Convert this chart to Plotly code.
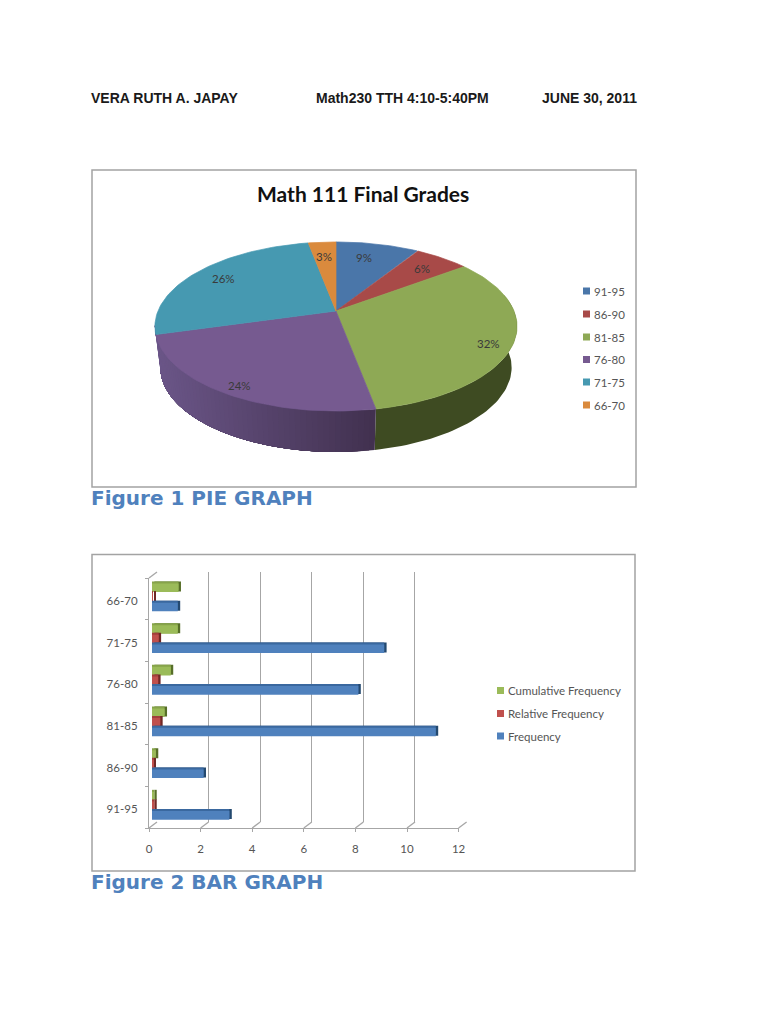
import math
import plotly.graph_objects as go

# --- Data ---
classes = ["91-95", "86-90", "81-85", "76-80", "71-75", "66-70"]
frequency = [3, 2, 11, 8, 9, 1]
relative_frequency = [0.09, 0.06, 0.32, 0.24, 0.26, 0.03]
cumulative_frequency = [0.09, 0.15, 0.49, 0.73, 1.0, 1.03]
bar_ticks = [0, 2, 4, 6, 8, 10, 12]

pie_colors = ["#4a76a9", "#a84a48", "#8ea955", "#765a90", "#4699b1", "#da8a3d"]
blue, blue_top, blue_cap = "#4f81bd", "#3a689f", "#24496f"
red, red_top, red_cap = "#c0504d", "#a23f3c", "#6f2826"
green, green_top, green_cap = "#9bbb59", "#86a34a", "#566e28"
grey_text = "#555555"
grid_grey = "#a6a6a6"
label_font = "Lato, 'Noto Sans', sans-serif"

# the page keeps the browser's 8px body margin, so the figure is 16px smaller
# and the axes are still in page pixels
PAGE_W, PAGE_H = 768, 1024
BODY = 8
W, H = PAGE_W - 2 * BODY, PAGE_H - 2 * BODY

# --- Pie geometry (tilted disc, page pixels) ---
CX, CY = 336, 311
RX, RY, PERSP = 178, 81.7, 0.183
DEPTH, WALL_SCALE = 41, 0.97


def rim(theta):
    u, v = math.sin(theta), math.cos(theta)
    den = 1 + PERSP * v
    return CX + RX * u / den, CY - RY * v / den


def arc(a, b, n=60):
    return [rim(a + (b - a) * i / n) for i in range(n + 1)]


def wall_bottom(pts):
    return [(CX + (x - CX) * WALL_SCALE, y + DEPTH) for x, y in pts]


def lerp_color(c1, c2, t):
    a = [int(c1[i:i + 2], 16) for i in (1, 3, 5)]
    b = [int(c2[i:i + 2], 16) for i in (1, 3, 5)]
    return "rgb(%d,%d,%d)" % tuple(round(p + (q - p) * t) for p, q in zip(a, b))


def poly_trace(pts, color, name=None, edge=0.7):
    return go.Scatter(
        x=[p[0] for p in pts] + [pts[0][0]],
        y=[p[1] for p in pts] + [pts[0][1]],
        mode="lines",
        fill="toself",
        fillcolor=color,
        line=dict(color=color, width=edge),
        showlegend=False,
        hoverinfo="text" if name else "skip",
        text=name,
        xaxis="x",
        yaxis="y",
    )


fig = go.Figure()

total = sum(frequency)
edges = [0]
for f in frequency:
    edges.append(edges[-1] + f / total * 2 * math.pi)

# side wall: each band runs to the far end of the wall so no seams show
green_from, green_to = math.radians(78), edges[3]
top = arc(green_from, green_to, 60)
fig.add_trace(poly_trace(top + wall_bottom(top)[::-1], "#3e4b22", edge=0))

purple_from, purple_to = edges[3], math.radians(262)
bands = 60
x_near, x_far = rim(purple_from)[0], rim(purple_to)[0]
for i in range(bands):
    a = purple_from + (purple_to - purple_from) * i / bands
    top = arc(a, purple_to, 30)
    shade = (top[0][0] - x_near) / (x_far - x_near)
    fig.add_trace(poly_trace(top + wall_bottom(top)[::-1], lerp_color("#423150", "#6b5688", shade), edge=0))

# top surface
for i, cls in enumerate(classes):
    fig.add_trace(poly_trace([(CX, CY)] + arc(edges[i], edges[i + 1]), pie_colors[i], cls))

# --- Bar chart planes ---
X_SCALE = 25.8
PLANE_TOP, PLANE_BOTTOM = 578, 828
BACK_DX, BACK_DY = 8, -6
BAR_DX, BAR_DY = 3, -3
FRONT_LEFT = 149
PLANE_W = 12 * X_SCALE


def xdom(left):
    return [(left - BODY) / W, (left + PLANE_W - BODY) / W]


def ydom(top, bottom):
    return [1 - (bottom - BODY) / H, 1 - (top - BODY) / H]


# floor and corner connectors between front ticks and back wall
conn_x, conn_y = [], []
for t in bar_ticks:
    x0 = FRONT_LEFT + t * X_SCALE
    conn_x += [x0, x0 + BACK_DX, None]
    conn_y += [PLANE_BOTTOM, PLANE_BOTTOM + BACK_DY, None]
conn_x += [FRONT_LEFT, FRONT_LEFT + BACK_DX, None]
conn_y += [PLANE_TOP, PLANE_TOP + BACK_DY, None]
fig.add_trace(go.Scatter(x=conn_x, y=conn_y, mode="lines", line=dict(color=grid_grey, width=1.3),
                         showlegend=False, hoverinfo="skip", xaxis="x", yaxis="y"))

# invisible trace so the back wall subplot exists
fig.add_trace(go.Scatter(x=[0, 12], y=[0, 1], mode="markers", marker=dict(opacity=0), showlegend=False,
                         hoverinfo="skip", xaxis="x2", yaxis="y2"))
# front plane with the tick labels
fig.add_trace(go.Scatter(x=[0, 12], y=[classes[0], classes[-1]], mode="markers", marker=dict(opacity=0),
                         showlegend=False, hoverinfo="skip", xaxis="x3", yaxis="y3"))

# bars: cap and top face are shifted copies under the main bar, top series first
positions = list(range(len(classes)))
BAR_H = 8.6 / 41.67
FACE_DY = 2.0 / 41.67
FACE_DX = 2.4 / X_SCALE
series = [
    ("Cumulative Frequency", cumulative_frequency, green, green_top, green_cap, 0.09),
    ("Relative Frequency", relative_frequency, red, red_top, red_cap, -0.14),
    ("Frequency", frequency, blue, blue_top, blue_cap, -0.372),
]
for name, vals, col, face, cap, off in series:
    fig.add_trace(go.Bar(y=positions, x=vals, base=FACE_DX, orientation="h", width=BAR_H + 0.7 * FACE_DY,
                         offset=off + 0.3 * FACE_DY,
                         marker=dict(color=cap, line=dict(width=0)), showlegend=False, hoverinfo="skip",
                         xaxis="x4", yaxis="y4"))
    fig.add_trace(go.Bar(y=positions, x=vals, base=0, orientation="h", width=BAR_H, offset=off + FACE_DY,
                         marker=dict(color=face, line=dict(width=0)), showlegend=False, hoverinfo="skip",
                         xaxis="x4", yaxis="y4"))
    fig.add_trace(go.Bar(y=positions, x=vals, base=0, orientation="h", width=BAR_H, offset=off,
                         marker=dict(color=col, line=dict(width=0)), name=name, showlegend=False,
                         xaxis="x4", yaxis="y4"))

# --- Keys ---
pie_key_y = [291, 314, 337, 359.5, 382, 405]
bar_key_y = [690.5, 713.5, 736]
fig.add_trace(go.Scatter(x=[586.5] * len(classes), y=pie_key_y, mode="markers", showlegend=False, hoverinfo="skip",
                         marker=dict(symbol="square", size=7, color=pie_colors), xaxis="x", yaxis="y"))
fig.add_trace(go.Scatter(x=[500.5] * 3, y=bar_key_y, mode="markers", showlegend=False, hoverinfo="skip",
                         marker=dict(symbol="square", size=7, color=[s[2] for s in series]), xaxis="x", yaxis="y"))

annotations = []


def put(text, x, y, size, color=grey_text, family=label_font, anchor="left", bold=False):
    if bold:
        text = "<b>" + text + "</b>"
    annotations.append(dict(text=text, x=x, y=y, xref="x", yref="y", xanchor=anchor, yanchor="middle",
                            showarrow=False, borderpad=0, font=dict(size=size, color=color, family=family)))


head_font = "'Liberation Sans', Arial, sans-serif"
put("VERA RUTH A. JAPAY", 90, 98, 14, "#1a1a1a", head_font, bold=True)
put("Math230 TTH 4:10-5:40PM", 315, 98, 14, "#1a1a1a", head_font, bold=True)
put("JUNE 30, 2011", 541, 98, 14, "#1a1a1a", head_font, bold=True)

put("Math 111 Final Grades", 362.5, 193.5, 21, "#111111", anchor="center", bold=True)

pie_label_xy = [(364, 257), (422, 268), (488, 343), (239, 385), (223, 278), (324, 256)]
for f, (lx, ly) in zip(frequency, pie_label_xy):
    put("%d%%" % round(f / total * 100), lx, ly, 11.5, "#3a3a3a", anchor="center")

for cls, ky in zip(classes, pie_key_y):
    put(cls, 592.5, ky, 11.5)
for s, ky in zip(series, bar_key_y):
    put(s[0], 507, ky, 11.5)

fig_font = "'DejaVu Sans', sans-serif"
put("Figure 1 PIE GRAPH", 90, 498, 20, "#4f81bd", fig_font, bold=True)
put("Figure 2 BAR GRAPH", 90, 882, 20, "#4f81bd", fig_font, bold=True)

frame = dict(color="#a3a3a3", width=1.5)
shapes = [
    dict(type="rect", xref="x", yref="y", x0=92, x1=636, y0=170, y1=487, line=frame, layer="below"),
    dict(type="rect", xref="x", yref="y", x0=92, x1=635, y0=554.5, y1=871, line=frame, layer="below"),
]

hidden = dict(visible=False, fixedrange=True)
tick_font = dict(size=11.5, color=grey_text, family=label_font)
fig.update_layout(
    width=W,
    height=H,
    autosize=False,
    margin=dict(l=0, r=0, t=0, b=0),
    paper_bgcolor="white",
    plot_bgcolor="rgba(0,0,0,0)",
    barmode="overlay",
    showlegend=False,
    annotations=annotations,
    shapes=shapes,
    xaxis=dict(domain=[0, 1], range=[BODY, BODY + W], **hidden),
    yaxis=dict(domain=[0, 1], range=[BODY + H, BODY], **hidden),
    # back wall gridlines (range nudged so the 0 and 12 lines are kept)
    xaxis2=dict(domain=xdom(FRONT_LEFT + BACK_DX), range=[-0.02, 12.02], anchor="y2", tickvals=bar_ticks, showgrid=True,
                gridcolor=grid_grey, gridwidth=1.3, zeroline=False, showticklabels=False, ticks="", fixedrange=True),
    yaxis2=dict(domain=ydom(PLANE_TOP + BACK_DY, PLANE_BOTTOM + BACK_DY), range=[0, 1], anchor="x2", **hidden),
    # front plane ticks and labels
    xaxis3=dict(domain=xdom(FRONT_LEFT), range=[0, 12], anchor="y3", tickvals=bar_ticks, showgrid=False, zeroline=False,
                showline=True, linecolor=grid_grey, linewidth=1.3, ticks="outside", ticklen=3, tickcolor=grid_grey,
                tickfont=tick_font, ticklabelstandoff=7, fixedrange=True),
    yaxis3=dict(domain=ydom(PLANE_TOP, PLANE_BOTTOM), type="category", categoryorder="array", categoryarray=classes,
                range=[-0.5, 5.5], anchor="x3", showgrid=False, zeroline=False, showline=True, linecolor=grid_grey,
                linewidth=1.3, ticks="outside", ticklen=3, tickcolor=grid_grey, tickson="boundaries",
                tickfont=tick_font, ticklabelstandoff=8, ticklabelshift=2, fixedrange=True),
    # bar plane
    xaxis4=dict(domain=xdom(FRONT_LEFT + BAR_DX), range=[0, 12], anchor="y4", **hidden),
    yaxis4=dict(domain=ydom(PLANE_TOP + BAR_DY, PLANE_BOTTOM + BAR_DY), range=[-0.5, 5.5], anchor="x4", **hidden),
)
# the default template would shrink the plot area for the tick labels
fig.update_xaxes(automargin=False)
fig.update_yaxes(automargin=False)

fig.write_html("out.html")
